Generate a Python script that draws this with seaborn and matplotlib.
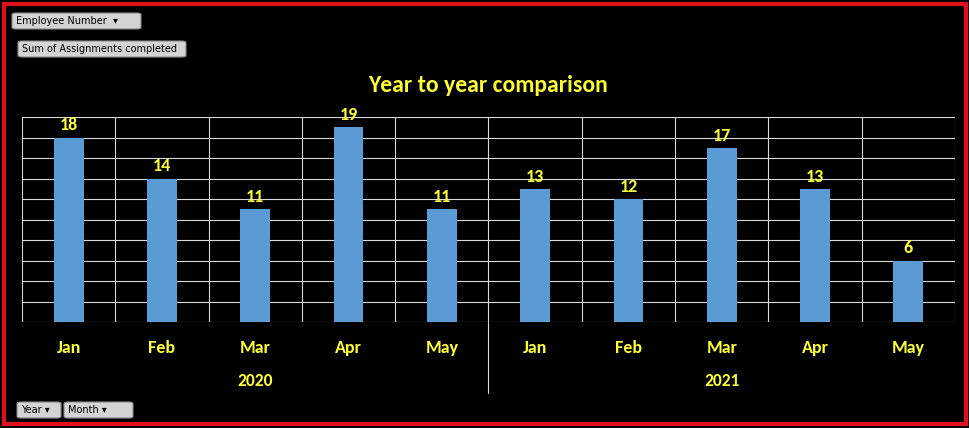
import matplotlib
matplotlib.use("Agg")
import matplotlib.pyplot as plt
import seaborn as sns
import pandas as pd
from matplotlib.patches import Rectangle, FancyBboxPatch

months = ["Jan", "Feb", "Mar", "Apr", "May", "Jan", "Feb", "Mar", "Apr", "May"]
years = ["2020"] * 5 + ["2021"] * 5
values = [18, 14, 11, 19, 11, 13, 12, 17, 13, 6]
title = "Year to year comparison"

df = pd.DataFrame({"pos": [f"{y}-{m}" for y, m in zip(years, months)], "v": values})

sns.set_style("white")
plt.rcParams['font.family'] = ['Calibri', 'Carlito', 'Open Sans', 'DejaVu Sans']
fig = plt.figure(figsize=(9.7, 4.28), dpi=100, facecolor="black")
ax = fig.add_axes([22/970, 106/428, 933/970, 205/428])
ax.set_facecolor("black")
sns.barplot(data=df, x="pos", y="v", color="#5B9BD5", width=0.32, ax=ax,
            saturation=1, linewidth=0, edgecolor="none")
ax.set_ylim(0, 20)
ax.set_xlim(-0.5, 9.5)
for y in range(2, 21, 2):
    ax.axhline(y, color="#d9d9d9", lw=0.8, zorder=0)
for x in range(0, 11):
    ax.axvline(x - 0.5, color="#d9d9d9", lw=0.8, zorder=0)
for s in ax.spines.values():
    s.set_visible(False)
ax.axhline(0, color="#d9d9d9", lw=0.8)
ax.set_xticks([]); ax.set_yticks([])
ax.set_xlabel(""); ax.set_ylabel("")
for i, v in enumerate(values):
    ax.text(i, v + 0.4, str(v), ha="center", va="bottom", color="#FFFF33",
            fontsize=13, fontweight="bold")
for i, m in enumerate(months):
    ax.text(i, -2.5, m, ha="center", va="center", color="#FFFF33", fontsize=13, fontweight="bold")
ax.text(2, -5.8, "2020", ha="center", va="center", color="#FFFF33", fontsize=12.5, fontweight="bold")
ax.text(7, -5.8, "2021", ha="center", va="center", color="#FFFF33", fontsize=12.5, fontweight="bold")
ax.plot([4.5, 4.5], [0, -6.9], color="#d9d9d9", lw=0.8, clip_on=False)

fig.text(488/970, 1 - 85/428, title, ha="center", va="center", color="#FFFF33",
         fontsize=17, fontweight="bold")

fig.add_artist(Rectangle((4/970, 4/428), 962/970, 420/428, transform=fig.transFigure,
                         fill=False, edgecolor="#E0101A", lw=3))

def button(x, y, w, h, label):
    fig.add_artist(FancyBboxPatch((x/970, 1 - (y + h)/428), w/970, h/428,
                                  boxstyle="round,pad=0,rounding_size=0.004",
                                  transform=fig.transFigure, facecolor="#d4d4d4",
                                  edgecolor="#888888", lw=0.8))
    fig.text((x + 4)/970, 1 - (y + h/2)/428, label, ha="left", va="center",
             fontsize=7, color="black", family=["DejaVu Sans"])

button(12, 13, 129, 16, "Employee Number  ▾")
button(18, 41, 168, 16, "Sum of Assignments completed")
button(17, 402, 44, 16, "Year ▾")
button(64, 402, 69, 16, "Month ▾")

fig.savefig("out.png", dpi=100, facecolor="black")
